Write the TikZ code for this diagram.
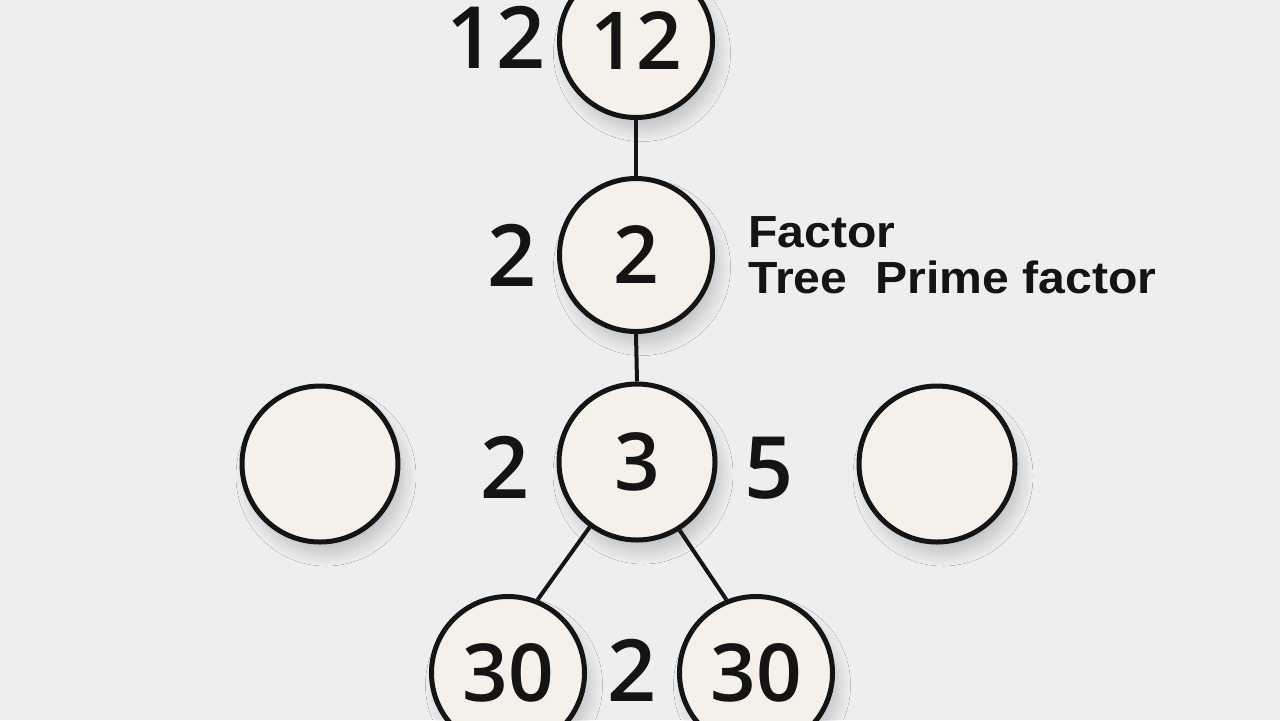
\documentclass[tikz,border=0pt]{standalone}
\usepackage{fontspec}
\setmainfont{Liberation Sans}
\newfontfamily\capfont{Liberation Sans}[FakeStretch=1.07]
\newfontfamily\numfont{Open Sans}[UprightFont={* Semibold}]
\usetikzlibrary{shadows.blur}
\definecolor{bg}{HTML}{EDEEF0}
\definecolor{cream}{HTML}{F5F1EA}
\definecolor{ink}{HTML}{141414}
\begin{document}
\begin{tikzpicture}[x=0.5pt,y=-0.5pt,
  bubble/.style={circle, draw=ink, line width=2.5pt, fill=cream, minimum size=76.5pt, inner sep=0pt,
    font=\numfont\fontsize{40}{40}\selectfont, text=ink,
    blur shadow={shadow xshift=3pt, shadow yshift=-6pt, shadow blur radius=6pt, shadow blur steps=12, shadow opacity=18}},
  bigbubble/.style={bubble, minimum size=78pt},
  numlabel/.style={font=\numfont\fontsize{43}{43}\selectfont, text=ink, inner sep=0pt},
  caption/.style={font=\capfont\bfseries\fontsize{22.5}{22.5}\selectfont, text=ink, inner sep=0pt, anchor=base west},
  link/.style={draw=ink, line width=2pt}
]
\fill[bg] (0,0) rectangle (1280,720);
\useasboundingbox (0,0) rectangle (1280,720);

\node[bubble] (n12) at (636,41) {12};
\node[bubble] (n2) at (636,255) {2};
\node[bubble, minimum size=78pt] (n3) at (637,462) {3};
\node[bigbubble] (eL) at (320,464) {};
\node[bigbubble] (eR) at (937,464) {};
\node[bubble] (b30L) at (508,673) {30};
\node[bubble] (b30R) at (756,673) {30};

\draw[link] (n12.south) -- (n2.north);
\draw[link] (n2.south) -- (n3.north);
\draw[link] (n3.234) -- (b30L.68);
\draw[link] (n3.302) -- (b30R.112);

\node[numlabel] (l12) at (496,37) {12};
\node[numlabel] (l2a) at (512,255) {2};
\node[numlabel] (l2b) at (505,467) {2};
\node[numlabel] (l5) at (769,468) {5};
\node[numlabel] (l2c) at (632,670) {2};

\node[caption] (cap1) at (748,247) {Factor};
\node[caption] (cap2) at (748,293) {Tree};
\node[caption] (cap3) at (875,293) {Prime factor};
\end{tikzpicture}
\end{document}
